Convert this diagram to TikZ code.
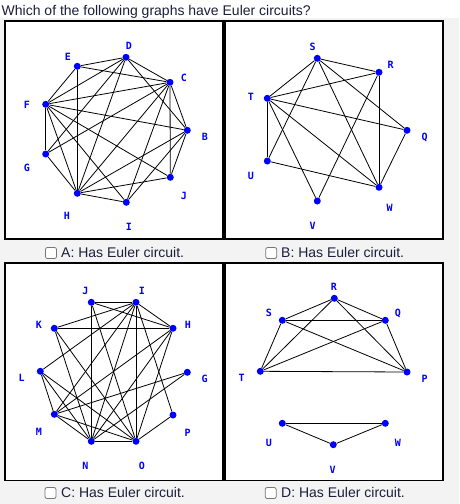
\documentclass[tikz,border=0pt]{standalone}
\usepackage{fontspec}
\setmainfont{Liberation Sans}
\newfontfamily\lblfont{DejaVu Sans Mono}
\definecolor{vblue}{HTML}{0000FF}
\definecolor{pagegray}{HTML}{F3F3F3}
\definecolor{txtcol}{HTML}{1E1E3C}
\definecolor{boxgray}{HTML}{767676}
\begin{document}
\begin{tikzpicture}[x=1pt,y=-1pt,
  vtx/.style={circle,fill=vblue,inner sep=0pt,minimum size=7pt},
  lbl/.style={text=vblue,font=\lblfont\bfseries\fontsize{10}{10}\selectfont,inner sep=0pt},
  edg/.style={line width=0.8pt,black},
  panel/.style={draw=black,line width=1.8pt,fill=white},
  captxt/.style={font=\fontsize{14}{16}\selectfont,text=txtcol,anchor=base west,inner sep=0pt},
  chk/.style={draw=boxgray,fill=white,line width=0.8pt,rounded corners=2pt,minimum width=11pt,minimum height=11pt,inner sep=0pt}]
\useasboundingbox (0,0) rectangle (459,504);
\fill[pagegray] (0,0) rectangle (459,504);
\fill[white] (0,0) rectangle (459,18);
\node[captxt] (title) at (1.5,15) {Which of the following graphs have Euler circuits?};
% panels
\draw[panel] (4.7,20.7) rectangle (223,239);
\draw[panel] (225,20.7) rectangle (443.3,239);
\draw[panel] (4.7,263) rectangle (223,480.5);
\draw[panel] (225,263) rectangle (443.3,480.5);
% captions
\node[chk] (ckA) at (51,253) {};
\node[captxt] (capA) at (61,257) {A: Has Euler circuit.};
\node[chk] (ckB) at (271.2,253) {};
\node[captxt] (capB) at (281,257) {B: Has Euler circuit.};
\node[chk] (ckC) at (50.5,493) {};
\node[captxt] (capC) at (61,497) {C: Has Euler circuit.};
\node[chk] (ckD) at (270.7,493) {};
\node[captxt] (capD) at (281,497) {D: Has Euler circuit.};
% ---------- Graph A ----------
\foreach \n/\x/\y in {D/126/57.3, E/77.3/66.3, C/170/82.3, F/45.7/104.3, B/187.3/130.3, G/45.7/154, J/170.3/177.3, H/77.3/193.3, I/126.3/202.3}
  \node[vtx] (a\n) at (\x,\y) {};
\foreach \n/\x/\y in {D/129/46, E/68/57, C/184/78, F/27/105, B/205/137, G/27/168, J/184/196, H/67/216, I/129/227}
  \node[lbl] (la\n) at (\x,\y) {\n};
\foreach \a/\b in {E/D,E/C,E/F,E/H,D/C,D/F,D/G,D/H,D/B,C/F,C/G,C/H,C/I,C/J,C/B,F/B,F/J,F/G,F/H,F/I,B/H,B/I,B/J,G/H,H/J,H/I}
  \draw[edg] (a\a) -- (a\b);
% ---------- Graph B ----------
\foreach \n/\x/\y in {S/317.3/58.3, R/379/72.3, T/267.3/98.3, Q/407/130.3, U/267.3/161, W/379/187.3, V/317.3/201}
  \node[vtx] (b\n) at (\x,\y) {};
\foreach \n/\x/\y in {S/312.7/46.7, R/390.7/65, T/251/96.7, Q/424.7/137.3, U/251/176.3, W/389.7/207.7, V/312.7/225.7}
  \node[lbl] (lb\n) at (\x,\y) {\n};
\foreach \a/\b in {S/R,S/T,S/U,S/W,S/Q,R/T,R/V,R/W,T/Q,T/U,T/V,T/W,Q/W,U/W}
  \draw[edg] (b\a) -- (b\b);
% ---------- Graph C ----------
\foreach \n/\x/\y in {J/91.3/302.3, I/136/302.3, K/54.3/328.3, H/173/328.3, L/40.3/371.3, G/187.3/372.3, M/54.3/414.3, P/173/415, N/91.3/441.3, O/136/441.3}
  \node[vtx] (c\n) at (\x,\y) {};
\foreach \n/\x/\y in {J/85.3/291, I/142/291, K/39/325, H/188/325, L/21.7/378, G/204.7/379, M/39/432, P/187.7/432.7, N/85.3/466, O/142/466}
  \node[lbl] (lc\n) at (\x,\y) {\n};
\foreach \a/\b in {J/I,J/N,J/H,J/O,I/K,I/H,I/O,I/L,I/M,I/N,I/P,K/H,K/N,K/O,H/M,H/N,H/O,L/M,L/N,L/O,G/M,G/N,M/N,M/O,N/O,O/P}
  \draw[edg] (c\a) -- (c\b);
% ---------- Graph D ----------
\foreach \n/\x/\y in {R/334.3/298.3, S/282.3/320.3, Q/385.3/320.3, T/260.3/371.3, P/407/372, U/282.3/423.3, W/385.3/423.3, V/333.3/444.7}
  \node[vtx] (d\n) at (\x,\y) {};
\foreach \n/\x/\y in {R/334/286.7, S/269/313.3, Q/398/313.3, T/241.7/378, P/424.7/378.7, U/269/442.7, W/398/443.3, V/332.7/470}
  \node[lbl] (ld\n) at (\x,\y) {\n};
\foreach \a/\b in {R/S,R/Q,R/T,R/P,S/Q,S/T,S/P,Q/T,Q/P,T/P,U/W,U/V,V/W}
  \draw[edg] (d\a) -- (d\b);
\end{tikzpicture}
\end{document}
